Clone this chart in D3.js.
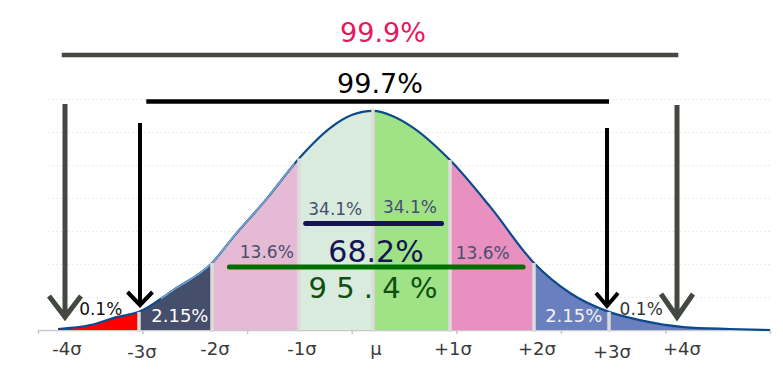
<!DOCTYPE html>
<html>
<head>
<meta charset="utf-8">
<script src="https://cdn.jsdelivr.net/npm/d3@7"></script>
<style>
  body { margin: 0; background: #fff; }
  svg { display: block; font-family: "DejaVu Sans", sans-serif; }
  .grid line { stroke: #ececec; stroke-dasharray: 2,2; }
  .grid .domain { display: none; }
  .base-axis line, .base-axis path { stroke: #c9c9c9; stroke-width: 1.5; }
</style>
</head>
<body>
<div id="chart"></div>
<script>
// sigma positions along the axis and their labels
var sigmaTicks = [-4, -3, -2, -1, 0, 1, 2, 3, 4];
var sigmaLabels = ["-4σ", "-3σ", "-2σ", "-1σ", "μ", "+1σ", "+2σ", "+3σ", "+4σ"];

// curve: sigma -> height (grid units)
var curveSigma  = [-4.08, -3.65, -3.3, -3, -2.53, -2, -1.76, -1.37, -1, -0.58, -0.28, 0, 0.26, 0.51, 1, 1.48, 2, 2.48, 3, 3.2, 3.44, 4.05, 4.56, 5];
var curveHeight = [0.03, 0.15, 0.39, 0.55, 1.21, 2.03, 2.8, 3.98, 5.2, 6.12, 6.52, 6.64, 6.48, 6.15, 5.15, 3.73, 2.03, 1.12, 0.55, 0.42, 0.30, 0.09, 0.03, 0];

// shaded bands (sigma edges) and the share of each one
var bandEdges = [-4.08, -3, -2, -1, 0, 1, 2, 3, 5];
var bandPercent = ["0.1%", "2.15%", "13.6%", "34.1%", "34.1%", "13.6%", "2.15%", "0.1%"];

// the +/- k sigma ranges drawn as bars
var rangeSigma = [1, 2, 3, 4];
var rangeLabels = ["68.2%", "9 5 . 4 %", "99.7%", "99.9%"];

var width = 783, height = 376;
var svg = d3.select("#chart").append("svg")
    .attr("width", width)
    .attr("height", height);

// the drawing is not evenly spaced, so the sigma scale is piecewise
var x = d3.scaleLinear()
    .domain([-4, -3, -2, -1, 0, 1, 2, 3, 4, 5])
    .range([64, 139, 212, 299, 373, 450, 534, 609, 679, 770]);
var y = d3.scaleLinear().domain([0, 7]).range([330, 99]);
var tickScale = d3.scaleLinear().domain([0, 7]).range([38, 770]);

var curveData = curveSigma.map(function (s, i) { return { s: s, h: curveHeight[i] }; });
function heightAt(s) {
    var p = curveData.find(function (d) { return d.s === s; });
    return p ? p.h : 0;
}

// faint dotted grid
svg.append("g")
    .attr("class", "grid")
    .attr("transform", "translate(48,0)")
    .call(d3.axisLeft(y).tickValues(d3.range(1, 8)).tickSize(-(770 - 48)).tickFormat(""));

// base line with its small ticks
svg.append("g")
    .attr("class", "base-axis")
    .attr("transform", "translate(0," + y(0) + ")")
    .call(d3.axisBottom(tickScale).ticks(7).tickSize(4).tickSizeOuter(0).tickFormat(""));

var area = d3.area()
    .x(function (d) { return x(d.s); })
    .y0(y(0))
    .y1(function (d) { return y(d.h); })
    .curve(d3.curveMonotoneX);
var line = d3.line()
    .x(function (d) { return x(d.s); })
    .y(function (d) { return y(d.h); })
    .curve(d3.curveMonotoneX);

var bandColors = ["#ff0000", "#454e6b", "#e5bad4", "#d9ebdd", "#a0e387", "#e890c0", "#6a7fbd", "#6a7fbd"];
var defs = svg.append("defs");
bandPercent.forEach(function (p, i) {
    defs.append("clipPath").attr("id", "band" + i)
        .append("rect")
        .attr("x", x(bandEdges[i]))
        .attr("y", 0)
        .attr("width", x(bandEdges[i + 1]) - x(bandEdges[i]))
        .attr("height", height);
    svg.append("path")
        .datum(curveData)
        .attr("d", area)
        .attr("fill", bandColors[i])
        .attr("clip-path", "url(#band" + i + ")");
});

// the curve itself, lighter on the left shoulder
defs.append("clipPath").attr("id", "lightPart")
    .append("rect")
    .attr("x", x(-2.7)).attr("y", 0)
    .attr("width", x(-1.05) - x(-2.7)).attr("height", height);
svg.append("path")
    .datum(curveData)
    .attr("d", line)
    .attr("fill", "none")
    .attr("stroke", "#0c4a8c")
    .attr("stroke-width", 2.2);
svg.append("path")
    .datum(curveData)
    .attr("d", line)
    .attr("fill", "none")
    .attr("stroke", "#7aa5cf")
    .attr("stroke-width", 1.6)
    .attr("clip-path", "url(#lightPart)");

// grey separators at each sigma
svg.append("g").selectAll("line")
    .data([-3, -2, -1, 0, 1, 2, 3])
    .enter().append("line")
    .attr("x1", function (d) { return x(d); })
    .attr("x2", function (d) { return x(d); })
    .attr("y1", y(0) + 2)
    .attr("y2", function (d) { return y(heightAt(d)) - (d === 0 ? 2 : 0); })
    .attr("stroke", "#dcdcdc")
    .attr("stroke-width", 3.5);

// sigma labels under the axis
svg.append("g").selectAll("text")
    .data(sigmaTicks)
    .enter().append("text")
    .attr("x", function (d) { return x(d) + 3; })
    .attr("y", function (d) { return Math.abs(d) === 3 ? 358 : 355; })
    .attr("text-anchor", "middle")
    .attr("font-size", 18)
    .attr("fill", "#3a3a3a")
    .text(function (d, i) { return sigmaLabels[i]; });

// labels inside the bands
var bandLabelSigma = [-3.51, -2.44, -1.37, -0.51, 0.48, 1.39, 2.53, 3.46];
var bandLabelBase = [315, 322, 258, 215, 213, 259, 322, 315];
var bandLabelColor = ["#111", "#fff", "#454f6d", "#454f6d", "#454f6d", "#454f6d", "#f4f4f4", "#333"];
var bandLabelSize = [17, 18, 17, 17, 17, 17, 18, 17];
svg.append("g").selectAll("text")
    .data(bandPercent)
    .enter().append("text")
    .attr("x", function (d, i) { return x(bandLabelSigma[i]); })
    .attr("y", function (d, i) { return bandLabelBase[i]; })
    .attr("text-anchor", "middle")
    .attr("font-size", function (d, i) { return bandLabelSize[i]; })
    .attr("fill", function (d, i) { return bandLabelColor[i]; })
    .text(function (d) { return d; });

// range bars and their labels
var rangeBar = [
    { from: -0.91, to: 0.89, y: 223.5, w: 5, color: "#141452", cap: "round" },
    { from: -1.8, to: 1.87, y: 267, w: 5, color: "#006e00", cap: "round" },
    { from: -2.9, to: 3, y: 101.5, w: 4.5, color: "#000", cap: "butt" },
    { from: -4.03, to: 3.99, y: 55, w: 4.5, color: "#434840", cap: "butt" }
];
var rangeText = [
    { x: 376, y: 262, size: 30, color: "#141452" },
    { x: 373, y: 298, size: 29, color: "#0f5010" },
    { x: 380, y: 93, size: 27, color: "#000" },
    { x: 383, y: 42, size: 27, color: "#e8175d" }
];
rangeSigma.forEach(function (k, i) {
    var b = rangeBar[i], t = rangeText[i];
    svg.append("line")
        .attr("x1", x(b.from)).attr("x2", x(b.to))
        .attr("y1", b.y).attr("y2", b.y)
        .attr("stroke", b.color)
        .attr("stroke-width", b.w)
        .attr("stroke-linecap", b.cap);
    svg.append("text")
        .attr("x", t.x).attr("y", t.y)
        .attr("text-anchor", "middle")
        .attr("font-size", t.size)
        .attr("fill", t.color)
        .text(rangeLabels[i]);
});

// down arrows at +/-3 and +/-4 sigma
var arrows = [
    { s: -4, top: 104, tip: 317, arm: 16, rise: 21, w: 5, color: "#434840" },
    { s: -3, top: 123, tip: 305, arm: 12.5, rise: 13, w: 4, color: "#000" },
    { s: 3, top: 128, tip: 306, arm: 11, rise: 13, w: 4, color: "#000" },
    { s: 4, top: 105, tip: 317, arm: 16, rise: 23, w: 5, color: "#434840" }
];
arrows.forEach(function (a) {
    var ax = x(a.s) + (a.s < 0 ? 1 : -2);
    svg.append("path")
        .attr("d", "M" + ax + "," + a.top + "V" + (a.tip - 3) +
            "M" + (ax - a.arm) + "," + (a.tip - a.rise) + "L" + ax + "," + a.tip + "L" + (ax + a.arm) + "," + (a.tip - a.rise))
        .attr("fill", "none")
        .attr("stroke", a.color)
        .attr("stroke-width", a.w)
        .attr("stroke-linejoin", "miter");
});
</script>
</body>
</html>
